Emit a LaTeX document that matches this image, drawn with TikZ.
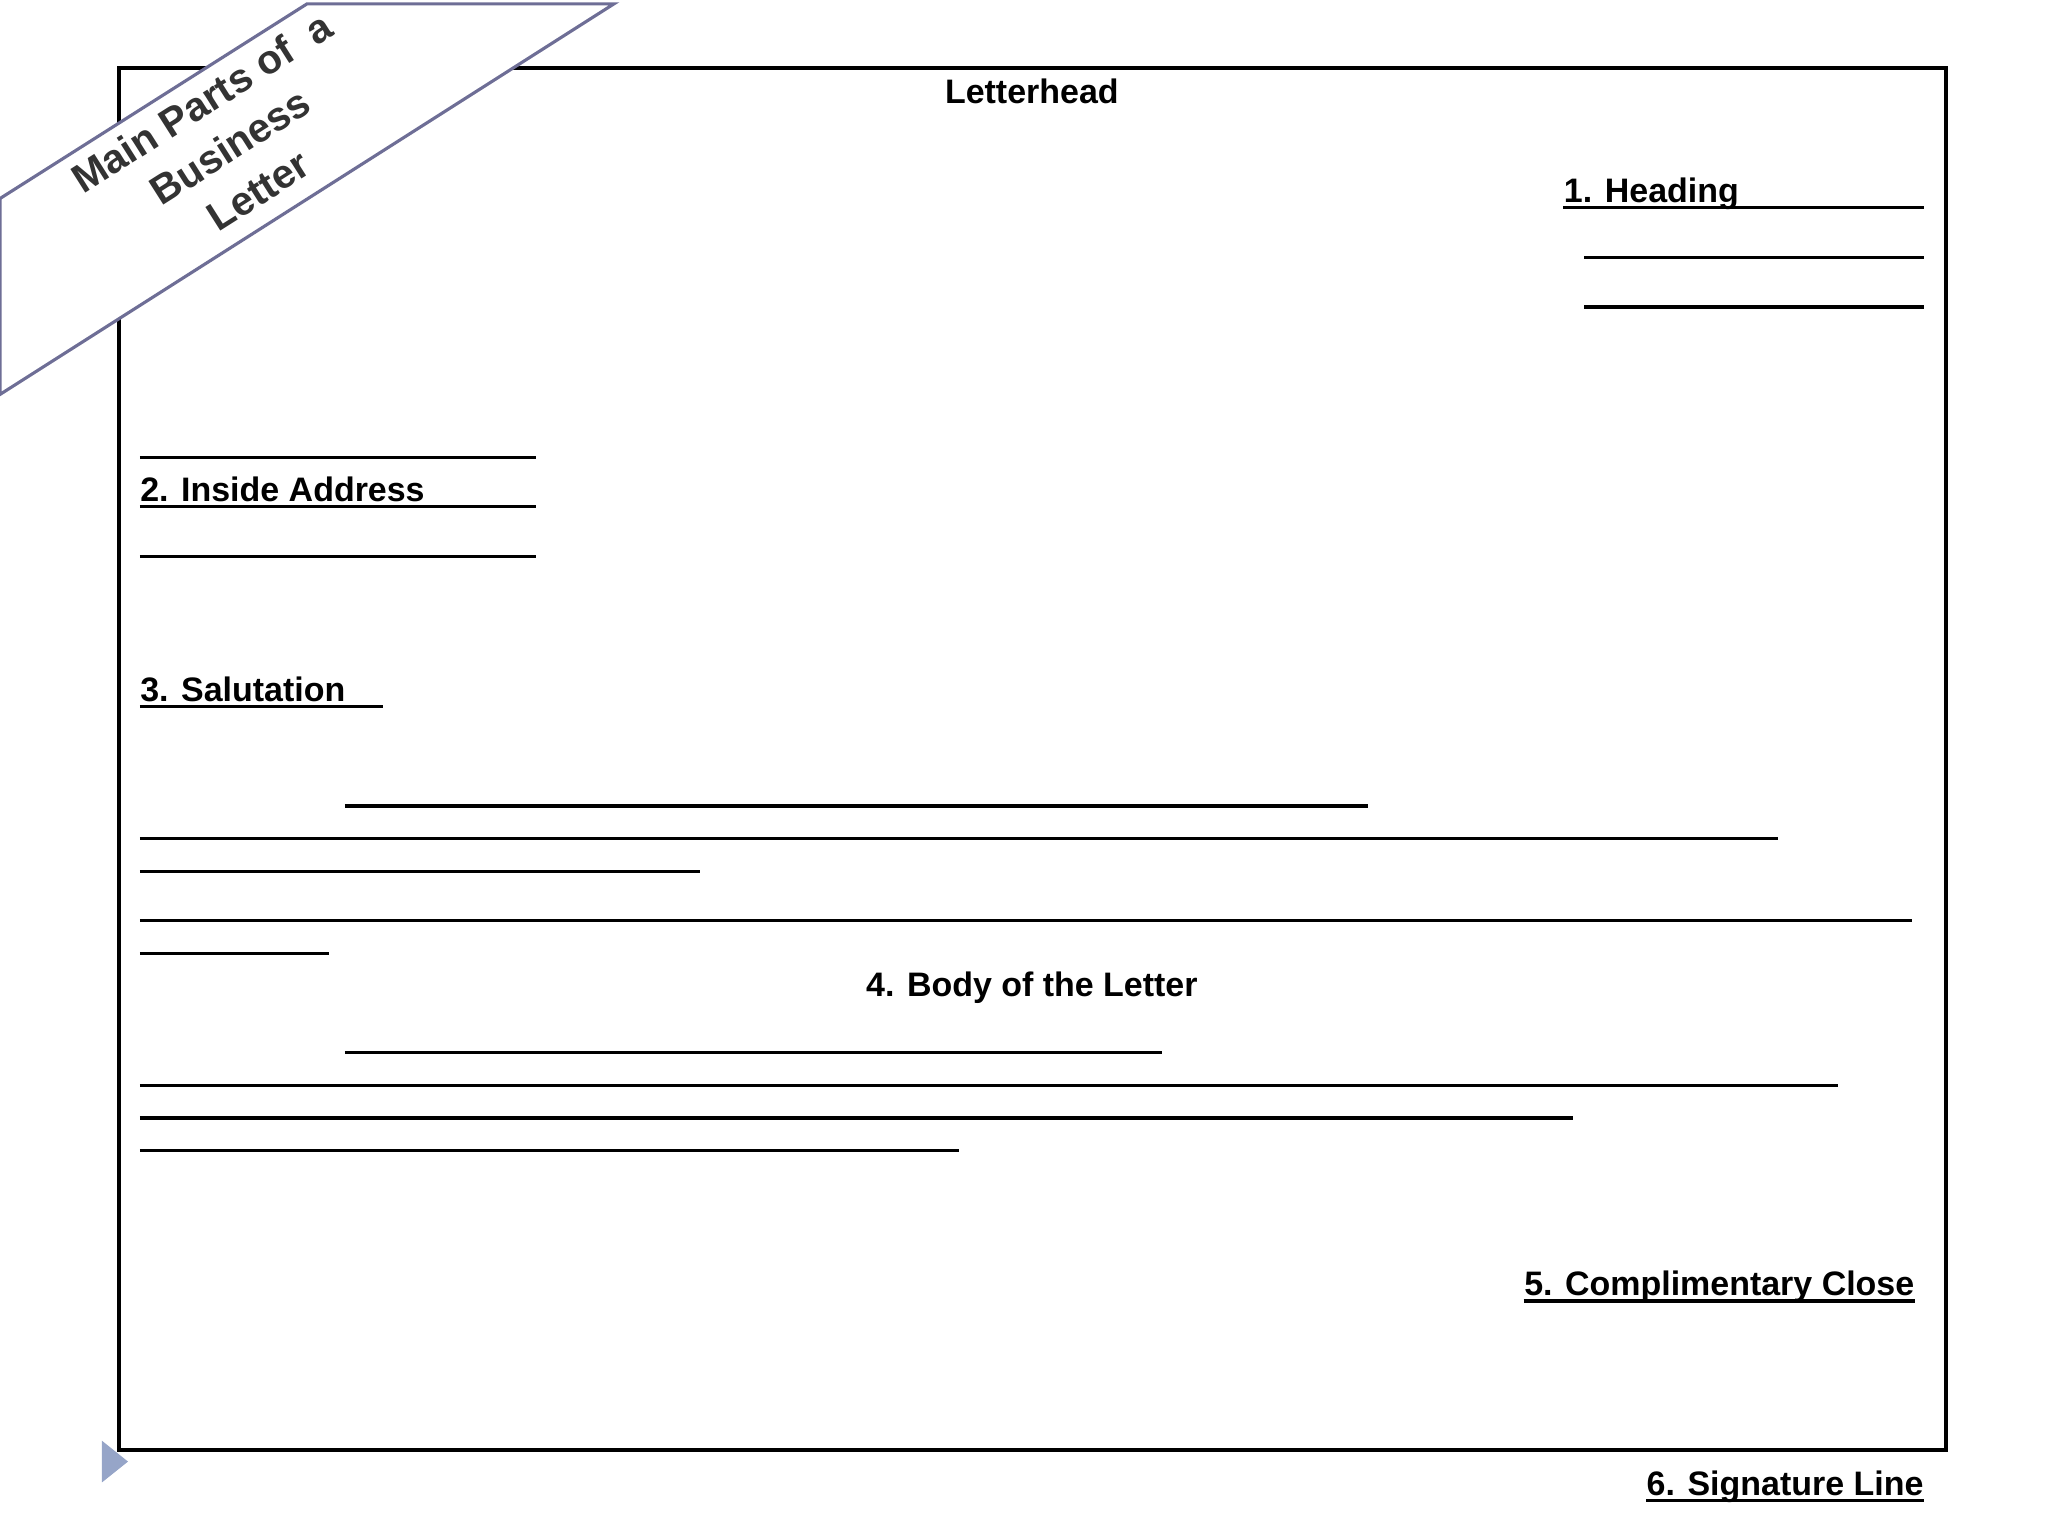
\documentclass[tikz,border=0pt]{standalone}
\usepackage{fontspec}
\setmainfont{Liberation Sans}
\definecolor{banner}{RGB}{110,110,150}
\definecolor{tri}{RGB}{150,165,200}
\begin{document}
\begin{tikzpicture}[x=0.5pt,y=-0.5pt,
  ln/.style={line width=1.25pt,black},
  lbl/.style={font=\fontsize{13}{15}\selectfont\bfseries,inner sep=0pt}]
\useasboundingbox (0,0) rectangle (1568,1176);
\draw[line width=1.5pt] (91,52) rectangle (1490,1110);
% banner
\draw[fill=white,draw=banner,line width=1.2pt] (0,152) -- (235,3) -- (470,3) -- (0,302) -- cycle;
\node[font=\fontsize{15.5}{20}\selectfont\bfseries,text=black!80,rotate=32.4,align=center] (ban) at (176,112) {Main Parts of\ \ a\\Business\\Letter};
\fill[tri] (78,1103) -- (98,1119) -- (78,1135) -- cycle;
% texts
\node[lbl] (lh) at (790,70) {Letterhead};
\node[lbl,anchor=base west] (h) at (1197,155) {1. Heading};
\node[lbl,anchor=base west] (ia) at (107,384) {2. Inside Address};
\node[lbl,anchor=base west] (sal) at (107,537) {3. Salutation};
\node[lbl] (body) at (790,756) {4. Body of the Letter};
\node[lbl,anchor=base east] (cc) at (1466,992) {5. Complimentary Close};
\node[lbl,anchor=base east] (sig) at (1473,1145) {6. Signature Line};
\draw[ln] ([yshift=-2pt]cc.base west) -- ([yshift=-2pt]cc.base east);
\draw[ln] ([yshift=-2pt]sig.base west) -- ([yshift=-2pt]sig.base east);
% lines
\draw[ln] (1197,159) -- (1473,159);
\draw[ln] (1213,197) -- (1473,197);
\draw[ln] (1213,235) -- (1473,235);
\draw[ln] (107,350) -- (410,350);
\draw[ln] (107,388) -- (410,388);
\draw[ln] (107,426) -- (410,426);
\draw[ln] (107,541) -- (293,541);
\draw[ln] (264,617) -- (1047,617);
\draw[ln] (107,642) -- (1361,642);
\draw[ln] (107,667) -- (536,667);
\draw[ln] (107,705) -- (1464,705);
\draw[ln] (107,730) -- (252,730);
\draw[ln] (264,806) -- (890,806);
\draw[ln] (107,831) -- (1407,831);
\draw[ln] (107,856) -- (1204,856);
\draw[ln] (107,881) -- (734,881);
\end{tikzpicture}
\end{document}
